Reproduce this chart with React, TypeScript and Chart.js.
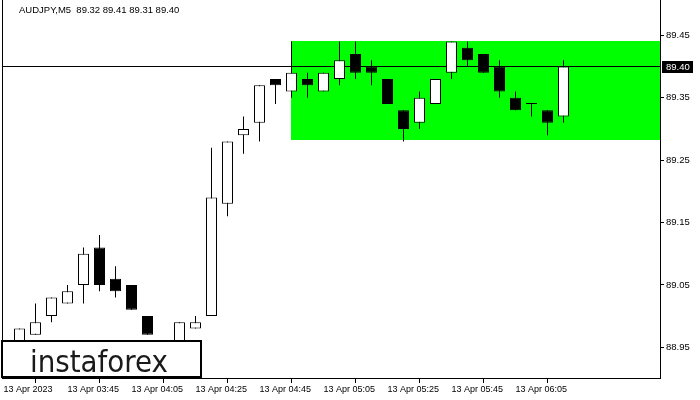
import React, { useEffect, useRef } from "react";
import { Chart, registerables } from "chart.js";

Chart.register(...registerables);

const titleText = "AUDJPY,M5  89.32 89.41 89.31 89.40";
const logoText = "instaforex";

// candle values (index 0 = 13 Apr 03:30, 5-minute bars)
const opens = [88.96, 88.97, 89.0, 89.02, 89.05, 89.11, 89.06, 89.05, 89.0, 88.955, 88.94, 88.98, 89.0, 89.18, 89.29, 89.31, 89.38, 89.36, 89.38, 89.36, 89.38, 89.42, 89.4, 89.38, 89.33, 89.31, 89.34, 89.39, 89.43, 89.42, 89.4, 89.35, 89.34, 89.33, 89.32];
const highs = [88.98, 89.02, 89.03, 89.05, 89.11, 89.13, 89.08, 89.05, 89.0, 88.958, 88.99, 89.0, 89.27, 89.28, 89.32, 89.37, 89.38, 89.44, 89.39, 89.39, 89.44, 89.44, 89.41, 89.38, 89.33, 89.36, 89.38, 89.44, 89.44, 89.42, 89.41, 89.36, 89.34, 89.33, 89.41];
const lows = [88.95, 88.97, 88.99, 89.02, 89.02, 89.04, 89.03, 89.01, 88.97, 88.93, 88.94, 88.98, 89.0, 89.16, 89.26, 89.28, 89.34, 89.35, 89.35, 89.36, 89.37, 89.38, 89.37, 89.34, 89.28, 89.3, 89.34, 89.38, 89.4, 89.39, 89.35, 89.33, 89.32, 89.29, 89.31];
const closes = [88.98, 88.99, 89.03, 89.04, 89.1, 89.05, 89.04, 89.01, 88.97, 88.935, 88.99, 88.99, 89.19, 89.28, 89.3, 89.37, 89.37, 89.39, 89.37, 89.39, 89.41, 89.39, 89.39, 89.34, 89.3, 89.35, 89.38, 89.44, 89.41, 89.39, 89.36, 89.33, 89.34, 89.31, 89.4];

const xTickIndex = [-1, 3, 7, 11, 15, 19, 23, 27, 31];
const xTickLabels = ["13 Apr 2023", "13 Apr 03:45", "13 Apr 04:05", "13 Apr 04:25", "13 Apr 04:45", "13 Apr 05:05", "13 Apr 05:25", "13 Apr 05:45", "13 Apr 06:05"];
const yTickValues = [88.95, 89.05, 89.15, 89.25, 89.35, 89.45];

// rectangle (pattern zone)
const zoneStartIndex = 17;
const zoneHigh = 89.441;
const zoneLow = 89.282;

const lastPrice = closes[closes.length - 1];

const X_MIN = -1.03125;
const X_MAX = 40.03125;
const Y_MIN = 88.9008;
const Y_MAX = 89.5066;

const FONT = "'Liberation Sans', Arial, sans-serif";

function zeroPadding(scale: any) {
  scale.paddingTop = 0;
  scale.paddingBottom = 0;
  scale.paddingLeft = 0;
  scale.paddingRight = 0;
}

export default function App() {
  const ref = useRef<HTMLCanvasElement | null>(null);

  useEffect(() => {
    const canvas = ref.current;
    if (!canvas) return;

    const wickData = lows.map((l, i) => ({ x: i, y: [l, highs[i]] }));
    const bodyData = opens.map((o, i) => ({ x: i, y: [o, closes[i]] }));
    const bodyColors = opens.map((o, i) => (closes[i] > o ? "#ffffff" : "#000000"));

    const backgroundPlugin = {
      id: "bgLayers",
      beforeDatasetsDraw(chart: any) {
        const { ctx, chartArea } = chart;
        const xs = chart.scales.x;
        const ys = chart.scales.y;
        ctx.save();
        // zone
        const zx = Math.round(xs.getPixelForValue(zoneStartIndex) - 0.5);
        const zy1 = ys.getPixelForValue(zoneHigh);
        const zy2 = ys.getPixelForValue(zoneLow);
        ctx.fillStyle = "#00ff00";
        ctx.fillRect(zx, Math.round(zy1), chartArea.right - zx, Math.round(zy2) - Math.round(zy1));
        // last price line
        const py = Math.floor(ys.getPixelForValue(lastPrice)) + 0.5;
        ctx.strokeStyle = "#000000";
        ctx.lineWidth = 1;
        ctx.beginPath();
        ctx.moveTo(chartArea.left, py);
        ctx.lineTo(chartArea.right, py);
        ctx.stroke();
        ctx.restore();
      },
      afterDraw(chart: any) {
        const { ctx, chartArea } = chart;
        const ys = chart.scales.y;
        ctx.save();
        // frame left line
        ctx.strokeStyle = "#000000";
        ctx.lineWidth = 1;
        ctx.beginPath();
        ctx.moveTo(chartArea.left - 0.5, chartArea.top);
        ctx.lineTo(chartArea.left - 0.5, chartArea.bottom + 1);
        ctx.stroke();

        // title
        ctx.fillStyle = "#000000";
        ctx.font = `9.5px ${FONT}`;
        ctx.textBaseline = "middle";
        ctx.textAlign = "left";
        ctx.fillText(titleText, 19, 10.5);

        // price label
        const py = Math.floor(ys.getPixelForValue(lastPrice));
        ctx.fillStyle = "#000000";
        ctx.fillRect(chartArea.right + 2, py - 5, 31, 12);
        ctx.fillStyle = "#ffffff";
        ctx.font = `9.5px ${FONT}`;
        ctx.fillText(lastPrice.toFixed(2), chartArea.right + 6, py + 1);

        // logo
        ctx.fillStyle = "#ffffff";
        ctx.fillRect(2, 341, 199, 36);
        ctx.strokeStyle = "#000000";
        ctx.lineWidth = 2;
        ctx.strokeRect(2, 341, 199, 36);
        ctx.font = `31px 'Liberation Sans Narrow', 'DejaVu Sans Condensed', sans-serif`;
        ctx.textBaseline = "alphabetic";
        const w = ctx.measureText(logoText).width;
        ctx.translate(30, 372);
        ctx.scale(138 / w, 1);
        ctx.fillStyle = "#1a1a1a";
        ctx.fillText(logoText, 0, 0);
        ctx.restore();
      },
    };

    const chart = new Chart(canvas, {
      type: "bar",
      data: {
        datasets: [
          {
            data: wickData as any,
            backgroundColor: "#000000",
            borderWidth: 0,
            barThickness: 1,
            grouped: false,
            inflateAmount: 0,
            order: 2,
          } as any,
          {
            data: bodyData as any,
            backgroundColor: bodyColors,
            borderColor: "#000000",
            borderWidth: 1,
            borderSkipped: false,
            barThickness: 11,
            minBarLength: 1,
            grouped: false,
            inflateAmount: 0,
            order: 1,
          } as any,
        ],
      },
      options: {
        responsive: false,
        animation: false,
        events: [],
        layout: { padding: { left: 3, right: 0, top: 0, bottom: 0 } },
        plugins: { legend: { display: false }, tooltip: { enabled: false }, title: { display: false } },
        scales: {
          x: {
            type: "linear",
            position: "bottom",
            min: X_MIN,
            max: X_MAX,
            offset: false,
            grid: { display: true, drawOnChartArea: false, drawTicks: true, tickLength: 5, color: "#000000" },
            border: { display: true, color: "#000000" },
            afterBuildTicks: (scale: any) => {
              scale.ticks = xTickIndex.map((v) => ({ value: v }));
            },
            afterFit: (scale: any) => {
              scale.height = 22;
              zeroPadding(scale);
            },
            ticks: {
              autoSkip: false,
              maxRotation: 0,
              minRotation: 0,
              align: "start",
              padding: 1,
              color: "#000000",
              font: { family: FONT, size: 9 },
              callback: (v: any) => {
                const k = xTickIndex.indexOf(Number(v));
                return k >= 0 ? xTickLabels[k] : "";
              },
            },
          },
          y: {
            type: "linear",
            position: "right",
            min: Y_MIN,
            max: Y_MAX,
            grid: { display: true, drawOnChartArea: false, drawTicks: true, tickLength: 4, color: "#000000" },
            border: { display: true, color: "#000000" },
            afterBuildTicks: (scale: any) => {
              scale.ticks = yTickValues.map((v) => ({ value: v }));
            },
            afterFit: (scale: any) => {
              scale.width = 40;
              zeroPadding(scale);
            },
            ticks: {
              autoSkip: false,
              padding: 2,
              color: "#000000",
              font: { family: FONT, size: 9.5 },
              callback: (v: any) => Number(v).toFixed(2),
            },
          },
        },
      } as any,
      plugins: [backgroundPlugin],
    });

    return () => chart.destroy();
  }, []);

  return (
    <div style={{ position: "fixed", left: 0, top: 0, width: 700, height: 400, background: "#ffffff" }}>
      <canvas ref={ref} width={700} height={400} style={{ display: "block", width: 700, height: 400 }} />
    </div>
  );
}
